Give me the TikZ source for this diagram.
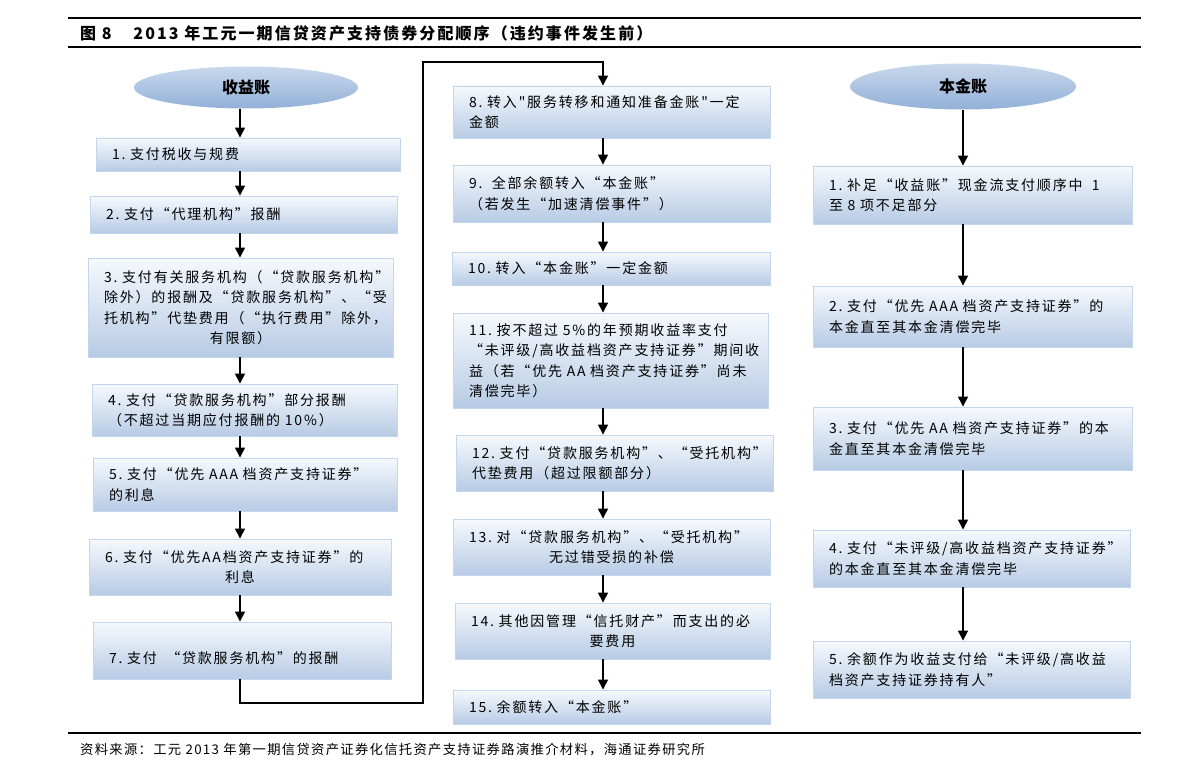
\documentclass[tikz,border=0pt]{standalone}
\usepackage{fontspec}
\setmainfont{Noto Sans CJK SC}
\newfontfamily\boxfont{Noto Sans CJK SC}[LetterSpace=13]
\newfontfamily\srcfont{Noto Sans CJK SC}[LetterSpace=10]
\newfontfamily\titlefont{Noto Sans CJK SC}[LetterSpace=13]
\usetikzlibrary{shapes.geometric,arrows.meta}
\definecolor{boxtop}{RGB}{246,249,253}
\definecolor{boxbot}{RGB}{183,203,229}
\definecolor{boxline}{RGB}{195,214,238}
\definecolor{elltop}{RGB}{200,216,236}
\definecolor{ellbot}{RGB}{146,176,215}
\tikzset{
  fbox/.style 2 args={draw=boxline, line width=0.9pt, top color=boxtop, bottom color=boxbot,
    minimum width=#1pt, minimum height=#2pt, inner xsep=16pt, inner ysep=0pt,
    /utils/exec={\pgfmathsetmacro\twid{#1-32}}, text width=\twid pt, align=left,
    font=\fontsize{14}{20.5}\selectfont\boxfont},
  acct/.style={ellipse, top color=elltop, bottom color=ellbot, draw=none, inner sep=0pt,
    font=\fontsize{16}{18}\selectfont\bfseries},
  arr/.style={-{Triangle[width=10pt,length=10pt]}, line width=1.4pt, black},
  rule/.style={draw=black}
}
\newcommand{\ctr}[1]{\makebox[\linewidth][c]{#1}}
\begin{document}
\begin{tikzpicture}[x=1pt,y=-1pt]
\useasboundingbox (0,0) rectangle (1191,778);
% title and rules
\draw[rule, line width=1.5pt] (68,18) -- (1141,18);
\draw[rule, line width=2pt] (68,47) -- (1141,47);
\draw[rule, line width=2.2pt] (68,733) -- (1141,733);
\node[anchor=west, inner sep=0pt, font=\fontsize{16}{18}\selectfont\titlefont\bfseries] (title) at (80,33)
  {图~8\quad~2013~年工元一期信贷资产支持债券分配顺序（违约事件发生前）};
\node[anchor=west, inner sep=0pt, font=\fontsize{13.3}{16}\selectfont\srcfont] (src) at (80,750)
  {资料来源：工元~2013~年第一期信贷资产证券化信托资产支持证券路演推介材料，海通证券研究所};

% column coordinates
\coordinate (cl) at (240,0);
\coordinate (cm) at (603,0);
\coordinate (cr) at (963,0);

% left column
\node[acct, minimum width=224pt, minimum height=42pt] (el) at (246,87.5) {收益账};
\node[fbox={304}{33}] (l1) at (248,154.5) {1.~支付税收与规费};
\node[fbox={307}{37}] (l2) at (243.5,214.5) {2.~支付“代理机构”报酬};
\node[fbox={305}{99}] (l3) at (240.5,307.5) {3.~支付有关服务机构（“贷款服务机构”\\除外）的报酬及“贷款服务机构”、“受\\托机构”代垫费用（“执行费用”除外，\\\ctr{有限额）}};
\node[fbox={305}{52}] (l4) at (244.5,410) {4.~支付“贷款服务机构”部分报酬\\（不超过当期应付报酬的~10\%）};
\node[fbox={304}{53}] (l5) at (245,484.5) {5.~支付“优先~AAA~档资产支持证券”\\的利息};
\node[fbox={302}{56}] (l6) at (240,567) {6.~支付“优先AA档资产支持证券”的\\\ctr{利息}};
\node[fbox={298}{57}] (l7) at (242,650.5) {\mbox{}\\[7pt]7.~支付~~“贷款服务机构”的报酬};

% middle column
\node[fbox={317}{52}] (m8) at (611.5,112) {8.~转入"服务转移和通知准备金账"一定\\金额};
\node[fbox={317}{57}] (m9) at (611.5,193.5) {9.~~全部余额转入“本金账”\\（若发生“加速清偿事件”）};
\node[fbox={318}{33}] (m10) at (611,268.5) {10.~转入“本金账”一定金额};
\node[fbox={315}{95}] (m11) at (610.5,360.5) {11.~按不超过~5\%的年预期收益率支付\\“未评级/高收益档资产支持证券”期间收\\益（若“优先~AA~档资产支持证券”尚未\\清偿完毕）};
\node[fbox={317}{56}] (m12) at (614.5,463) {12.~支付“贷款服务机构”、“受托机构”\\代垫费用（超过限额部分）};
\node[fbox={317}{56}] (m13) at (611.5,547) {13.~对“贷款服务机构”、“受托机构”\\\ctr{无过错受损的补偿}};
\node[fbox={315}{56}] (m14) at (612.5,631) {14.~其他因管理“信托财产”而支出的必\\\ctr{要费用}};
\node[fbox={317}{34}] (m15) at (611.5,707) {15.~余额转入“本金账”};

% right column
\node[acct, minimum width=226pt, minimum height=46pt] (er) at (963,86.5) {本金账};
\node[fbox={319}{58}] (r1) at (972.5,195) {1.~补足“收益账”现金流支付顺序中~~1\\至~8~项不足部分};
\node[fbox={319}{61}] (r2) at (972.5,316.5) {2.~支付“优先~AAA~档资产支持证券”的\\本金直至其本金清偿完毕};
\node[fbox={319}{63}] (r3) at (972.5,438.5) {3.~支付“优先~AA~档资产支持证券”的本\\金直至其本金清偿完毕};
\node[fbox={317}{57}] (r4) at (971.5,558.5) {4.~支付“未评级/高收益档资产支持证券”\\的本金直至其本金清偿完毕};
\node[fbox={317}{57}] (r5) at (971.5,669.5) {5.~余额作为收益支付给“未评级/高收益\\档资产支持证券持有人”};

% left arrows
\draw[arr] (cl |- el.south) -- (cl |- l1.north);
\draw[arr] (cl |- l1.south) -- (cl |- l2.north);
\draw[arr] (cl |- l2.south) -- (cl |- l3.north);
\draw[arr] (cl |- l3.south) -- (cl |- l4.north);
\draw[arr] (cl |- l4.south) -- (cl |- l5.north);
\draw[arr] (cl |- l5.south) -- (cl |- l6.north);
\draw[arr] (cl |- l6.south) -- (cl |- l7.north);
% loop to middle column
\coordinate (loopB) at (423,703);
\coordinate (loopT) at (423,62);
\draw[arr] (cl |- l7.south) |- (loopB) -- (loopT) -| (cm |- m8.north);
% middle arrows
\draw[arr] (cm |- m8.south) -- (cm |- m9.north);
\draw[arr] (cm |- m9.south) -- (cm |- m10.north);
\draw[arr] (cm |- m10.south) -- (cm |- m11.north);
\draw[arr] (cm |- m11.south) -- (cm |- m12.north);
\draw[arr] (cm |- m12.south) -- (cm |- m13.north);
\draw[arr] (cm |- m13.south) -- (cm |- m14.north);
\draw[arr] (cm |- m14.south) -- (cm |- m15.north);
% right arrows
\draw[arr] (cr |- er.south) -- (cr |- r1.north);
\draw[arr] (cr |- r1.south) -- (cr |- r2.north);
\draw[arr] (cr |- r2.south) -- (cr |- r3.north);
\draw[arr] (cr |- r3.south) -- (cr |- r4.north);
\draw[arr] (cr |- r4.south) -- (cr |- r5.north);
\end{tikzpicture}
\end{document}
